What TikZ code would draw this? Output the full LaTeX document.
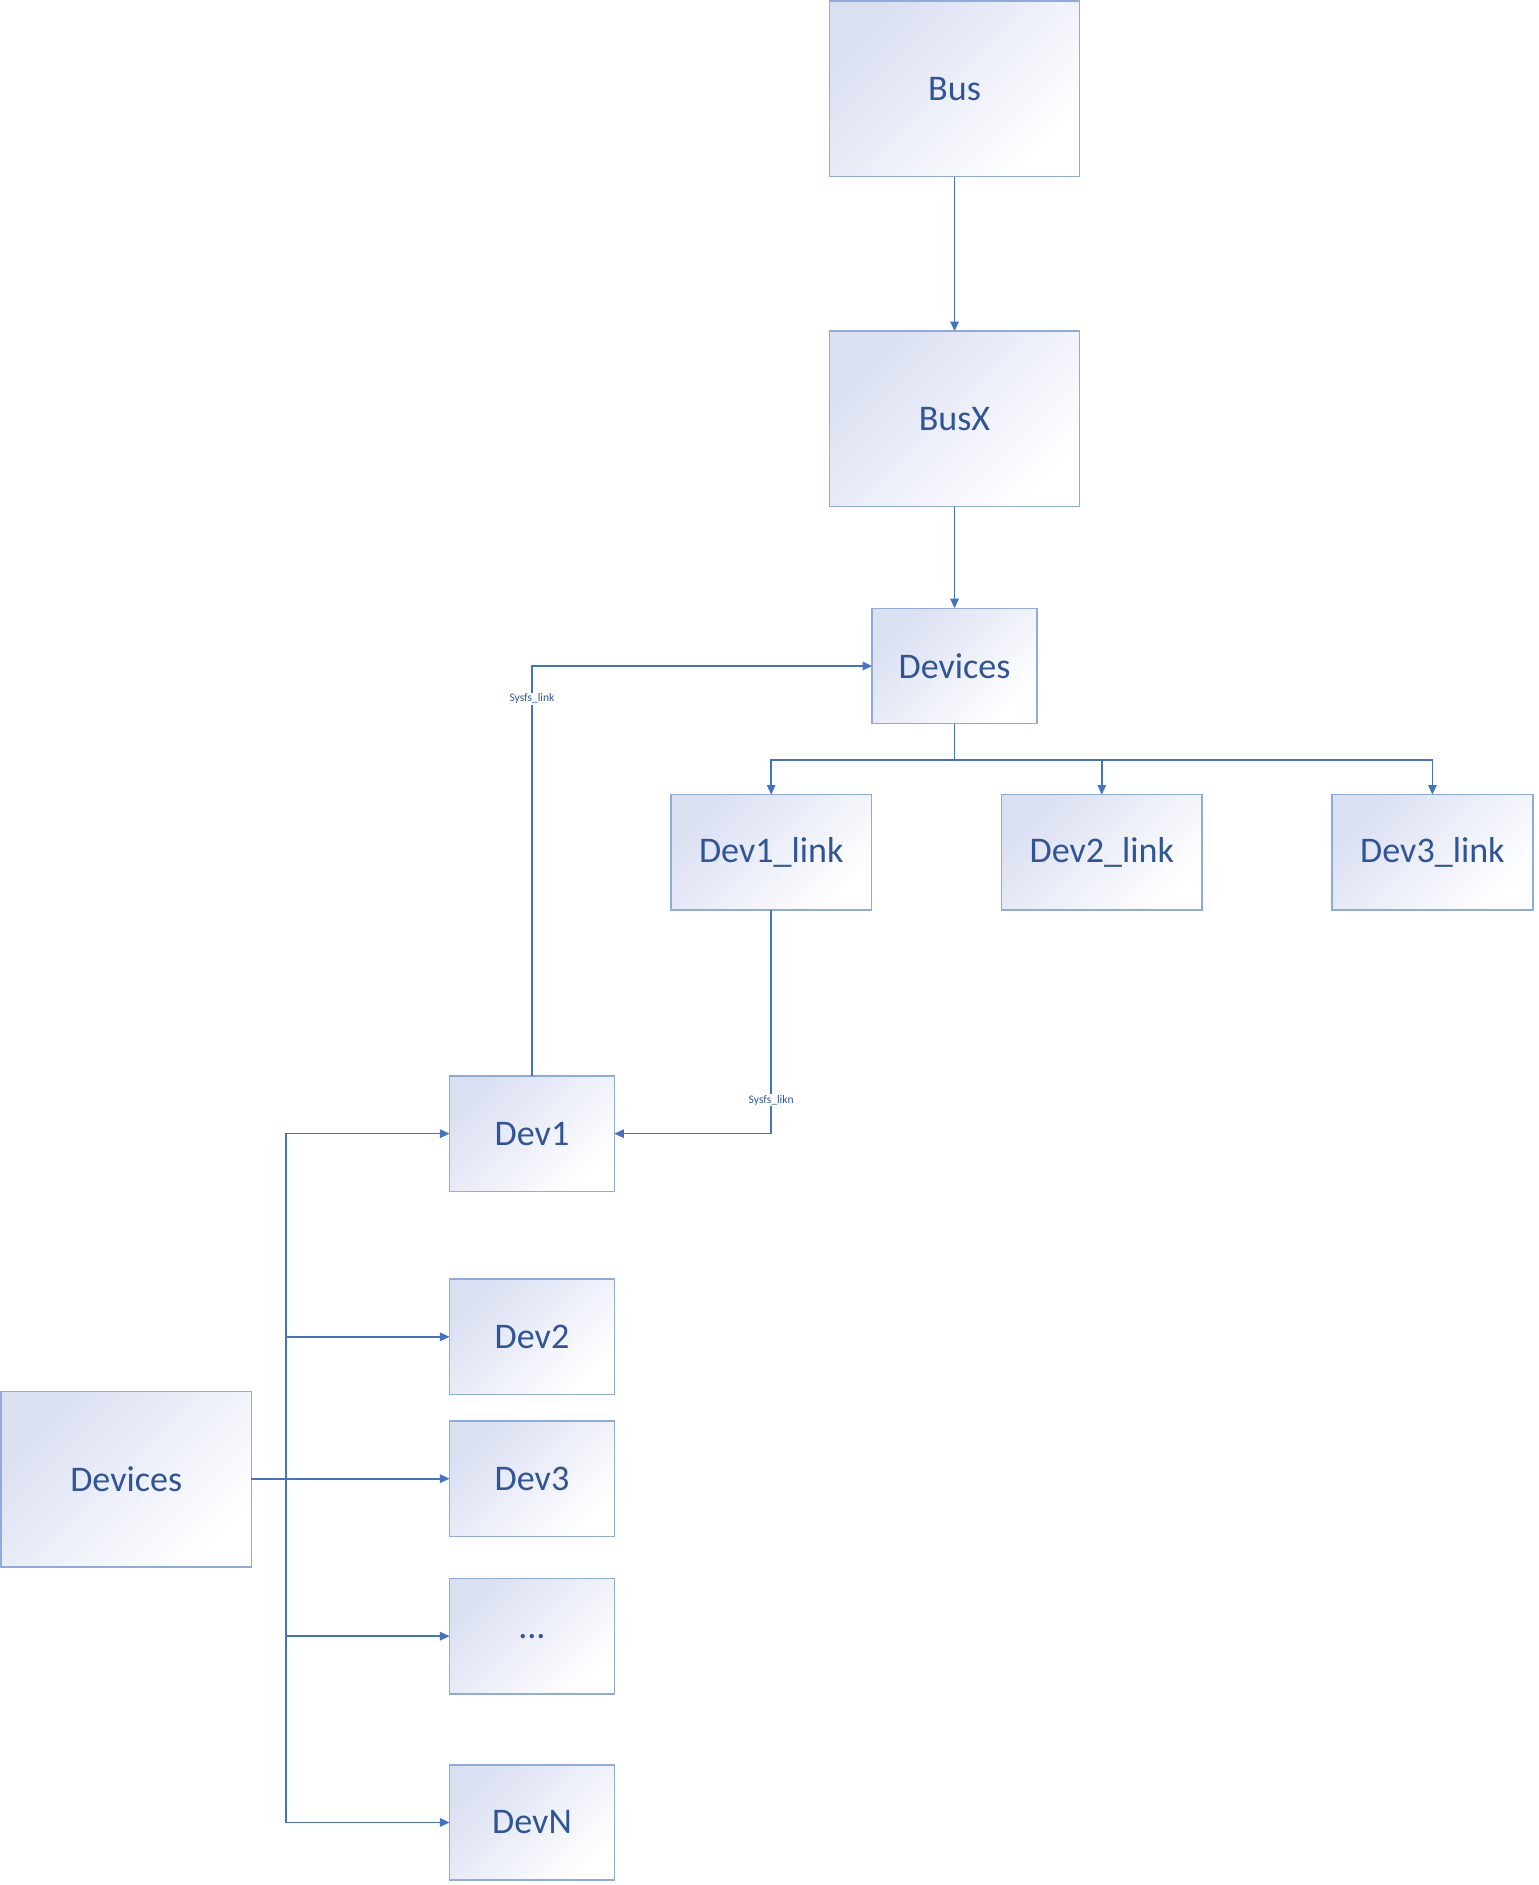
\documentclass[tikz,border=0pt]{standalone}
\usepackage{fontspec}
\setmainfont{Carlito}
\usetikzlibrary{arrows.meta}
\definecolor{bd}{HTML}{8FAADC}
\definecolor{ln}{HTML}{4472C4}
\definecolor{tx}{HTML}{2F5597}
\definecolor{sh}{HTML}{DADFF2}
\begin{document}
\begin{tikzpicture}[x=0.5pt,y=-0.5pt,
 box/.style={draw=bd,line width=0.6pt,inner sep=0pt,outer sep=0pt,left color=sh,right color=white,shading angle=45,text=tx,font=\fontsize{15}{17}\selectfont},
 big/.style={box,minimum width=104pt,minimum height=73pt},
 mid/.style={box,minimum width=68.5pt,minimum height=48pt},
 lnk/.style={box,minimum width=83.5pt,minimum height=48pt},
 ar/.style={draw=ln,line width=0.7pt,-{Triangle[length=4pt,width=3.5pt]}},
 lb/.style={text=tx,font=\fontsize{4.8}{5}\selectfont,fill=white,inner sep=0.5pt}]
\useasboundingbox (0,0) rectangle (1280,1568);
\node[big] (bus) at (794,74) {Bus};
\node[big] (busx) at (794,348.5) {BusX};
\node[mid] (devs) at (794,554) {Devices};
\node[lnk] (l1) at (641.5,709) {Dev1\_link};
\node[lnk] (l2) at (916.5,709) {Dev2\_link};
\node[lnk] (l3) at (1191.5,709) {Dev3\_link};
\node[mid] (d1) at (442.5,943) {Dev1};
\node[mid] (d2) at (442.5,1112) {Dev2};
\node[mid] (d3) at (442.5,1230) {Dev3};
\node[mid] (dd) at (442.5,1361) {...};
\node[mid] (dn) at (442.5,1516) {DevN};
\node[big] (left) at (105,1230.5) {Devices};
\coordinate (j) at (devs.south |- 0,632);
\coordinate (v) at (238,1230.5);
\draw[ar] (bus) -- (busx);
\draw[ar] (busx) -- (devs);
\draw[draw=ln,line width=0.7pt] (devs.south) -- (j);
\foreach \n in {l1,l2,l3}{\draw[ar] (j) -| (\n.north);}
\draw[ar] (d1.north) |- node[lb,pos=0.46]{Sysfs\_link} (devs.west);
\draw[ar] (l1.south) |- node[lb,pos=0.425]{Sysfs\_likn} (d1.east);
\draw[draw=ln,line width=0.7pt] (left.east) -- (v);
\foreach \n in {d1,d2,d3,dd,dn}{\draw[ar] (v) |- (\n.west);}
\end{tikzpicture}
\end{document}
